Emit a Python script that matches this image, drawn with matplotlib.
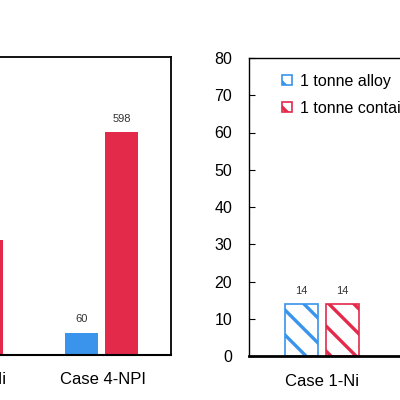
import numpy as np
import matplotlib.pyplot as plt

# figure drawn at 75 dpi so the hatch tile is 75 px (wider stripes);
# point sizes are scaled by S to keep their pixel size
DPI = 75
S = 100 / DPI

plt.rcParams["font.family"] = ["Liberation Sans", "DejaVu Sans"]
plt.rcParams["hatch.linewidth"] = 3.2

BLUE = "#3a94ec"
RED = "#e32a4b"

# left panel (only the last cases are in view)
left_cases = ["Case 3-Ni", "Case 4-NPI"]
left_alloy = [30, 60]
left_contained = [308, 598]

# right panel
right_cases = ["Case 1-Ni"]
right_alloy = [14]
right_contained = [14]
right_yticks = list(range(0, 81, 10))
legend_labels = ["1 tonne alloy", "1 tonne contained Ni"]

W = H = 400.0
UNIT = 135.0  # pixels per category
fig = plt.figure(figsize=(W / DPI, H / DPI), dpi=DPI)


def px_axes(x0, y_top, x1, y_bot):
    # axes placed with pixel coords (origin top-left)
    return fig.add_axes([x0 / W, 1 - y_bot / H, (x1 - x0) / W, (y_bot - y_top) / H])


bw = 0.245
off = 0.15

# ---- left panel ----
axl = px_axes(-200, 57, 171, 355)
x = np.arange(len(left_cases))
b1 = axl.bar(x - off - 0.015, left_alloy, bw, color=BLUE)
b2 = axl.bar(x + off - 0.015, left_contained, bw, color=RED)
for b in (b1, b2):
    axl.bar_label(b, fmt="%d", padding=6 * S, fontsize=8 * S, color="#333333")
axl.set_ylim(0, 800)
axl.set_xlim(1.5 - 371 / UNIT, 1.5)
axl.set_xticks(x, left_cases)
axl.tick_params(axis="x", length=0, pad=12 * S, labelsize=12 * S)
axl.tick_params(axis="y", labelsize=11 * S)
for s in axl.spines.values():
    s.set_linewidth(1.3 * S)
axl.spines["bottom"].set_linewidth(1.5 * S)

# ---- right panel ----
axr = px_axes(249, 58, 600, 356)
x = np.arange(len(right_cases))
r1 = axr.bar(x - off, right_alloy, bw, facecolor="white", edgecolor=BLUE,
             hatch="\\", linewidth=1.2 * S, label=legend_labels[0])
r2 = axr.bar(x + off, right_contained, bw, facecolor="white", edgecolor=RED,
             hatch="\\", linewidth=1.2 * S, label=legend_labels[1])
for b in (r1, r2):
    axr.bar_label(b, fmt="%d", padding=6 * S, fontsize=8 * S, color="#333333")
axr.set_ylim(0, 80)
axr.set_yticks(right_yticks)
axr.set_xlim(-73 / UNIT, -73 / UNIT + 351 / UNIT)
axr.set_xticks(x, right_cases)
axr.tick_params(axis="x", length=0, pad=13 * S, labelsize=12 * S)
axr.tick_params(axis="y", direction="in", length=4 * S, width=0.8 * S,
                pad=12 * S, labelsize=11.5 * S)
for s in axr.spines.values():
    s.set_linewidth(1.0 * S)
axr.spines["bottom"].set_linewidth(2.0 * S)

axr.legend(loc="upper left", bbox_to_anchor=(282 / W, 1 - 74 / H),
           bbox_transform=fig.transFigure, frameon=False, fontsize=11.5 * S,
           handlelength=0.6, handleheight=0.6, handletextpad=0.5,
           labelspacing=0.75, borderaxespad=0, borderpad=0)

fig.savefig("out.png", dpi=DPI)
